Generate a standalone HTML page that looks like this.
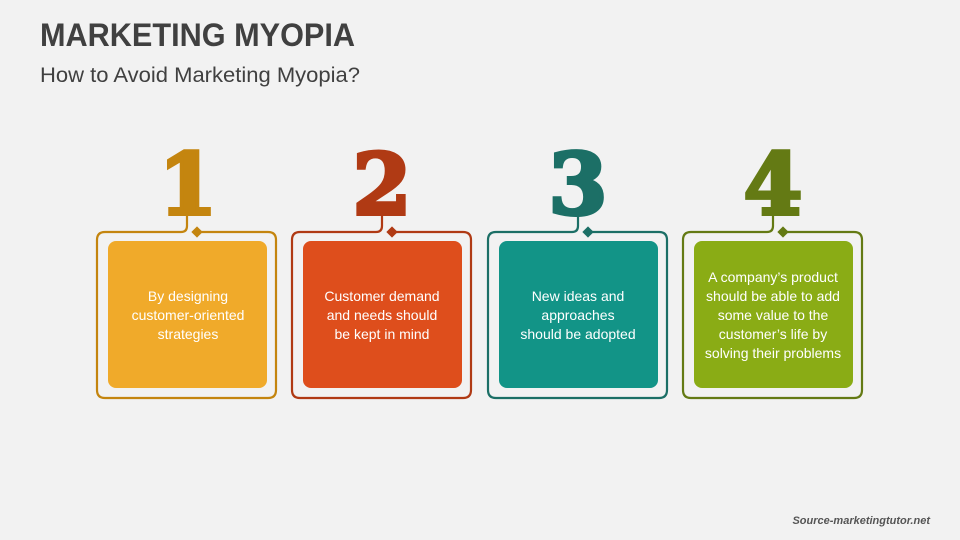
<!DOCTYPE html>
<html><head><meta charset="utf-8"><style>
body{margin:0;background:#f2f2f2;}
svg{display:block}
</style></head><body>
<svg width="960" height="540" xmlns="http://www.w3.org/2000/svg">
<rect width="960" height="540" fill="#f2f2f2"/>
<text x="40" y="46" textLength="315" lengthAdjust="spacingAndGlyphs" font-family="Liberation Sans, sans-serif" font-weight="bold" font-size="32" fill="#404040">MARKETING MYOPIA</text>
<text x="40" y="82" textLength="320" lengthAdjust="spacingAndGlyphs" font-family="Liberation Sans, sans-serif" font-size="21" fill="#404040">How to Avoid Marketing Myopia?</text>
<text x="930" y="524" text-anchor="end" font-family="Liberation Sans, sans-serif" font-weight="bold" font-style="italic" font-size="11" fill="#555">Source-marketingtutor.net</text>

<g font-family="DejaVu Serif, Liberation Serif, serif" font-weight="bold" font-size="84" text-anchor="middle" stroke-width="4" stroke-linejoin="miter">
 <g>
  <text x="188" y="214" fill="#C4850F" stroke="#C4850F">1</text>
  <path d="M187 216 v10 q0 6 -6 6 h-76 q-8 0 -8 8 v150 q0 8 8 8 h163 q8 0 8 -8 v-150 q0 -8 -8 -8 h-70" fill="none" stroke="#C4850F" stroke-width="2.2"/>
  <rect x="193" y="228" width="8" height="8" transform="rotate(45 197 232)" fill="#C4850F" stroke="none"/>
  <rect x="108" y="241" width="159" height="147" rx="8" fill="#F0AA2A" stroke="none"/>
 </g>
 <g>
  <text x="382" y="214" fill="#B03A14" stroke="#B03A14">2</text>
  <path d="M382 216 v10 q0 6 -6 6 h-76 q-8 0 -8 8 v150 q0 8 8 8 h163 q8 0 8 -8 v-150 q0 -8 -8 -8 h-70" fill="none" stroke="#B03A14" stroke-width="2.2"/>
  <rect x="388" y="228" width="8" height="8" transform="rotate(45 392 232)" fill="#B03A14" stroke="none"/>
  <rect x="303" y="241" width="159" height="147" rx="8" fill="#DE4E1C" stroke="none"/>
 </g>
 <g>
  <text x="578" y="214" fill="#1C6F66" stroke="#1C6F66">3</text>
  <path d="M578 216 v10 q0 6 -6 6 h-76 q-8 0 -8 8 v150 q0 8 8 8 h163 q8 0 8 -8 v-150 q0 -8 -8 -8 h-70" fill="none" stroke="#1C6F66" stroke-width="2.2"/>
  <rect x="584" y="228" width="8" height="8" transform="rotate(45 588 232)" fill="#1C6F66" stroke="none"/>
  <rect x="499" y="241" width="159" height="147" rx="8" fill="#129487" stroke="none"/>
 </g>
 <g>
  <text x="773" y="214" fill="#647A14" stroke="#647A14">4</text>
  <path d="M773 216 v10 q0 6 -6 6 h-76 q-8 0 -8 8 v150 q0 8 8 8 h163 q8 0 8 -8 v-150 q0 -8 -8 -8 h-70" fill="none" stroke="#647A14" stroke-width="2.2"/>
  <rect x="779" y="228" width="8" height="8" transform="rotate(45 783 232)" fill="#647A14" stroke="none"/>
  <rect x="694" y="241" width="159" height="147" rx="8" fill="#8AAC15" stroke="none"/>
 </g>
</g>

<g font-family="Liberation Sans, sans-serif" font-size="14" fill="#fff" text-anchor="middle">
 <text x="188" y="301">By designing</text>
 <text x="188" y="320">customer-oriented</text>
 <text x="188" y="339">strategies</text>
 <text x="382" y="301">Customer demand</text>
 <text x="382" y="320">and needs should</text>
 <text x="382" y="339">be kept in mind</text>
 <text x="578" y="301">New ideas and</text>
 <text x="578" y="320">approaches</text>
 <text x="578" y="339">should be adopted</text>
 <text x="773" y="282">A company’s product</text>
 <text x="773" y="301">should be able to add</text>
 <text x="773" y="320">some value to the</text>
 <text x="773" y="339">customer’s life by</text>
 <text x="773" y="358">solving their problems</text>
</g>
</svg>
</body></html>
